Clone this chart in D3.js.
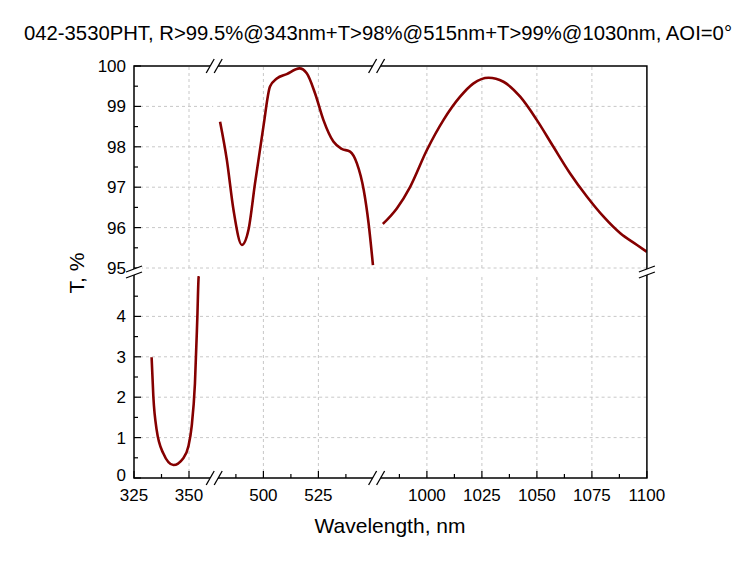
<!DOCTYPE html>
<html>
<head>
<meta charset="UTF-8">
<script src="https://d3js.org/d3.v7.min.js"></script>
<style>
  body { margin: 0; background: #fff; }
  text { font-family: "Liberation Sans", Arial, sans-serif; fill: #000; }
</style>
</head>
<body>
<svg id="canvas"></svg>
<script>
  width = 750;
  height = 574;

  title = "042-3530PHT, R>99.5%@343nm+T>98%@515nm+T>99%@1030nm, AOI=0°";

  // x axis segments (nm) and ticks
  xSegments = [[325, 361], [479, 551], [978.5, 1100]];
  xTicks = [325, 350, 500, 525, 1000, 1025, 1050, 1075, 1100];
  xMinor = [337.5, 487.5, 512.5, 537.5, 987.5, 1012.5, 1037.5, 1062.5, 1087.5];

  // y axis segments (%) and ticks
  ySegments = [[0, 5], [95, 100]];
  yTicks = [0, 1, 2, 3, 4, 95, 96, 97, 98, 99, 100];
  yMinor = [0.5, 1.5, 2.5, 3.5, 4.5, 95.5, 96.5, 97.5, 98.5, 99.5];

  // curve near 343 nm (lower panel)
  uvWl = [333.0, 333.8, 335.3, 338.3, 342.9, 347.4, 349.7, 351.2, 352.7, 353.8, 354.4, 354.6];
  uvT  = [2.99, 2.01, 1.19, 0.61, 0.32, 0.49, 0.78, 1.27, 2.34, 3.99, 4.98, 5.3];

  // curve near 515 nm
  visWl = [480.3, 483.4, 486.4, 490.2, 493.2, 496.2, 500.0, 503.0, 506.1, 510.6, 516.4, 519.7, 523.5, 527.3, 531.8, 535.6, 539.4, 542.5, 545.6, 547.8, 549.8];
  visT  = [98.62, 97.67, 96.44, 95.57, 95.94, 97.10, 98.50, 99.49, 99.69, 99.80, 99.94, 99.82, 99.32, 98.66, 98.13, 97.95, 97.88, 97.59, 96.93, 96.11, 95.07];

  // curve near 1030 nm
  irWl = [980.0, 986.4, 992.4, 1000.0, 1007.5, 1015.1, 1021.2, 1028.0, 1034.8, 1042.4, 1050.0, 1057.5, 1065.1, 1072.7, 1080.3, 1087.9, 1095.5, 1100.0];
  irT  = [96.09, 96.48, 97.01, 97.92, 98.66, 99.24, 99.57, 99.71, 99.61, 99.24, 98.66, 98.00, 97.34, 96.77, 96.27, 95.86, 95.57, 95.40];

  margin = {left: 134, top: 66, bottom: 478};
  pxPerNm = 2.2;
  xGap = 4;
  pxPerPct = 40.4;
  yGap = 8;

  // polylinear scales built from the segments
  xDomain = [], xRange = [];
  pos = margin.left;
  xSegments.forEach((s, i) => {
    if (i > 0) pos += xGap;
    xDomain.push(s[0]); xRange.push(pos);
    pos += (s[1] - s[0]) * pxPerNm;
    xDomain.push(s[1]); xRange.push(pos);
  });
  plotRight = pos;
  x = d3.scaleLinear().domain(xDomain).range(xRange);

  yDomain = [], yRange = [];
  pos = margin.bottom;
  ySegments.forEach((s, i) => {
    if (i > 0) pos -= yGap;
    yDomain.push(s[0]); yRange.push(pos);
    pos -= (s[1] - s[0]) * pxPerPct;
    yDomain.push(s[1]); yRange.push(pos);
  });
  y = d3.scaleLinear().domain(yDomain).range(yRange);
  plotTop = margin.top;
  plotBottom = margin.bottom;

  canvas = d3.select("#canvas").attr("width", width).attr("height", height);

  // title
  canvas.append("text")
    .attr("x", 378).attr("y", 40)
    .attr("text-anchor", "middle")
    .style("font-size", "20.3px")
    .text(title);

  // grid
  grid = canvas.append("g").attr("style", "stroke:#c8c8c8; stroke-width:1; stroke-dasharray:3,3;");
  xTicks.filter(d => d != 325 && d != 1100).forEach(d => {
    ySegments.forEach(s => {
      grid.append("line").attr("x1", x(d)).attr("x2", x(d)).attr("y1", y(s[0])).attr("y2", y(s[1]));
    });
  });
  yTicks.filter(d => d != 0 && d != 100).forEach(d => {
    xSegments.forEach(s => {
      grid.append("line").attr("x1", x(s[0])).attr("x2", x(s[1])).attr("y1", y(d)).attr("y2", y(d));
    });
  });

  // clip regions per panel
  defs = canvas.append("defs");
  function clipFor(id, xs, ys) {
    defs.append("clipPath").attr("id", id).append("rect")
      .attr("x", x(xs[0])).attr("width", x(xs[1]) - x(xs[0]))
      .attr("y", y(ys[1])).attr("height", y(ys[0]) - y(ys[1]));
  }
  clipFor("cA", xSegments[0], ySegments[0]);
  clipFor("cB", xSegments[1], ySegments[1]);
  clipFor("cC", xSegments[2], ySegments[1]);

  line = d3.line()
    .x(d => x(d[0]))
    .y(d => y(d[1]))
    .curve(d3.curveMonotoneX);

  curves = [[uvWl, uvT, "cA"], [visWl, visT, "cB"], [irWl, irT, "cC"]];
  curves.forEach(c => {
    pts = c[0].map((w, i) => [w, c[1][i]]);
    canvas.append("path")
      .attr("clip-path", "url(#" + c[2] + ")")
      .attr("d", line(pts))
      .attr("style", "fill:none; stroke:#850000; stroke-width:2.6; stroke-linejoin:round; stroke-linecap:butt;");
  });

  // frame
  canvas.append("rect")
    .attr("x", margin.left).attr("y", plotTop)
    .attr("width", plotRight - margin.left).attr("height", plotBottom - plotTop)
    .attr("style", "stroke:#000; stroke-width:1.5; fill:none;");

  // ticks (inside)
  ticks = canvas.append("g").attr("style", "stroke:#000; stroke-width:1.2;");
  xTicks.forEach(d => ticks.append("line").attr("x1", x(d)).attr("x2", x(d)).attr("y1", plotBottom).attr("y2", plotBottom - 7));
  xMinor.forEach(d => ticks.append("line").attr("x1", x(d)).attr("x2", x(d)).attr("y1", plotBottom).attr("y2", plotBottom - 4));
  yTicks.forEach(d => ticks.append("line").attr("x1", margin.left).attr("x2", margin.left + 7).attr("y1", y(d)).attr("y2", y(d)));
  yMinor.forEach(d => ticks.append("line").attr("x1", margin.left).attr("x2", margin.left + 4).attr("y1", y(d)).attr("y2", y(d)));

  // tick labels
  labels = canvas.append("g").style("font-size", "17px");
  xTicks.forEach(d => labels.append("text")
    .attr("x", x(d)).attr("y", plotBottom + 23)
    .attr("text-anchor", "middle").text(d));
  yTicks.forEach(d => labels.append("text")
    .attr("x", margin.left - 8).attr("y", y(d) + (d == 0 ? 3 : 6))
    .attr("text-anchor", "end").text(d));

  // break marks
  brk = canvas.append("g");
  function xBreak(cx, cy) {
    brk.append("polygon")
      .attr("points", [[cx - 9, cy + 6], [cx - 1, cy - 6], [cx + 7, cy - 6], [cx - 1, cy + 6]].join(" "))
      .attr("fill", "#fff");
    [-4, 4].forEach(o => brk.append("line")
      .attr("x1", cx + o - 5).attr("y1", cy + 7).attr("x2", cx + o + 3).attr("y2", cy - 7)
      .attr("style", "stroke:#000; stroke-width:1.3;"));
  }
  function yBreak(cx, cy) {
    brk.append("polygon")
      .attr("points", [[cx - 8, cy + 6], [cx + 8, cy], [cx + 8, cy - 6], [cx - 8, cy]].join(" "))
      .attr("fill", "#fff");
    [-3, 3].forEach(o => brk.append("line")
      .attr("x1", cx - 8).attr("y1", cy + o + 3).attr("x2", cx + 8).attr("y2", cy + o - 3)
      .attr("style", "stroke:#000; stroke-width:1.3;"));
  }
  gx1 = (x(xSegments[0][1]) + x(xSegments[1][0])) / 2;
  gx2 = (x(xSegments[1][1]) + x(xSegments[2][0])) / 2;
  gy = (y(ySegments[0][1]) + y(ySegments[1][0])) / 2;
  [gx1, gx2].forEach(g => { xBreak(g, plotTop); xBreak(g, plotBottom); });
  yBreak(margin.left, gy);
  yBreak(plotRight, gy);

  // axis titles
  canvas.append("text")
    .attr("x", 390).attr("y", 533)
    .attr("text-anchor", "middle")
    .style("font-size", "21px")
    .text("Wavelength, nm");
  canvas.append("text")
    .attr("transform", "translate(84, 273) rotate(-90)")
    .attr("text-anchor", "middle")
    .style("font-size", "21px")
    .text("T, %");
</script>
</body>
</html>
